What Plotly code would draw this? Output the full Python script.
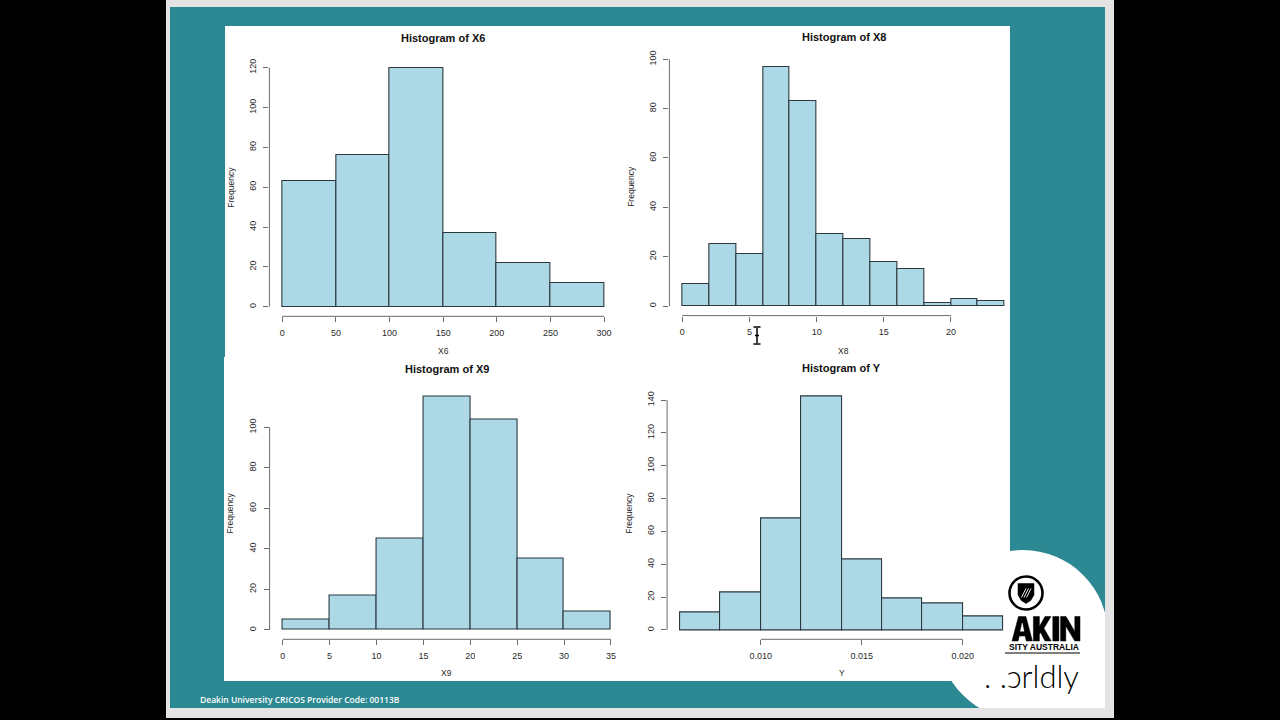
import plotly.graph_objects as go

W, H = 1280, 720

# ---------------- data ----------------
x6_edges = [0, 50, 100, 150, 200, 250, 300]
x6_counts = [63, 76, 120, 37, 22, 12]
x8_edges = [0, 2, 4, 6, 8, 10, 12, 14, 16, 18, 20, 22, 24]
x8_counts = [9, 25, 21, 97, 83, 29, 27, 18, 15, 1, 3, 2]
x9_edges = [0, 5, 10, 15, 20, 25, 30, 35]
x9_counts = [5, 17, 45, 115, 104, 35, 9]
y_edges = [0.006, 0.008, 0.010, 0.012, 0.014, 0.016, 0.018, 0.020, 0.022]
y_counts = [11, 23, 68, 142, 43, 19, 16, 8]

x6_xticks = [0, 50, 100, 150, 200, 250, 300]
x8_xticks = [0, 5, 10, 15, 20]
x9_xticks = [0, 5, 10, 15, 20, 25, 30, 35]
y_xticks = [0.010, 0.015, 0.020]
x6_xticklabels = ["0", "50", "100", "150", "200", "250", "300"]
x8_xticklabels = ["0", "5", "10", "15", "20"]
x9_xticklabels = ["0", "5", "10", "15", "20", "25", "30", "35"]
y_xticklabels = ["0.010", "0.015", "0.020"]
x6_yticks = [0, 20, 40, 60, 80, 100, 120]
x8_yticks = [0, 20, 40, 60, 80, 100]
x9_yticks = [0, 20, 40, 60, 80, 100]
y_yticks = [0, 20, 40, 60, 80, 100, 120, 140]

titles = ["Histogram of X6", "Histogram of X8", "Histogram of X9", "Histogram of Y"]
xlabels = ["X6", "X8", "X9", "Y"]
ylabel = "Frequency"
footer = "Deakin University CRICOS Provider Code: 00113B"

# ---------------- layout helpers ----------------
def px(x):
    return x / W


def py(y):
    return 1 - y / H


TEAL = "#2C8993"
FRAME = "#E4E4E4"
BAR = "#ADD8E6"
EDGE = "#2B383E"
AXIS = "#6A6A6A"
TXT = "#2A2A2A"
FONT = "Liberation Sans, Arial, Helvetica, sans-serif"

# plot-region boxes in pixels: left, right, top, bottom
boxes = [
    (269.4, 616.9, 58.1, 316.3),
    (669.4, 1017.6, 57.1, 315.6),
    (269.6, 624.1, 387.6, 639.3),
    (667.1, 1016.1, 387.4, 639.3),
]
title_y = [38, 37, 369, 368]
ylab_x = [231.5, 631.5, 230.0, 629.3]
xlab_y = [351, 351, 673.3, 673.3]

panels = [
    (x6_edges, x6_counts, x6_xticks, x6_xticklabels, x6_yticks),
    (x8_edges, x8_counts, x8_xticks, x8_xticklabels, x8_yticks),
    (x9_edges, x9_counts, x9_xticks, x9_xticklabels, x9_yticks),
    (y_edges, y_counts, y_xticks, y_xticklabels, y_yticks),
]

fig = go.Figure()
shapes = []
annotations = []


def rect(x0, y0, x1, y1, color, layer="below"):
    return dict(type="rect", xref="paper", yref="paper",
                x0=px(x0), x1=px(x1), y0=py(y1), y1=py(y0),
                fillcolor=color, line=dict(width=0), layer=layer)


def pline(x0, y0, x1, y1, color, width=1, layer="above"):
    return dict(type="line", xref="paper", yref="paper",
                x0=px(x0), x1=px(x1), y0=py(y0), y1=py(y1),
                line=dict(color=color, width=width), layer=layer)


def ppath(points, fill):
    d = "M " + " L ".join(f"{px(a):.5f},{py(b):.5f}" for a, b in points) + " Z"
    return dict(type="path", xref="paper", yref="paper", path=d,
                fillcolor=fill, line=dict(color=fill, width=0.5),
                layer="above")


# background: frame, teal slide, logo blob, chart panels
shapes.append(rect(166, 0, 1114, 718, FRAME))
shapes.append(rect(170, 7, 1105, 708, TEAL))
shapes.append(dict(type="circle", xref="paper", yref="paper",
                   x0=px(1023 - 85), x1=px(1023 + 85), y0=py(635 + 85), y1=py(635 - 85),
                   fillcolor="white", line=dict(width=0), layer="below"))
shapes.append(rect(1023, 612, 1105, 708, "white"))
shapes.append(rect(166, 708, 1114, 718, FRAME))
shapes.append(rect(0, 718, 1280, 720, "black"))
shapes.append(rect(1105, 0, 1114, 718, FRAME))
shapes.append(rect(225, 26, 1010, 357, "white"))
shapes.append(rect(224, 357, 1010, 681, "white"))

layout_axes = {}
for i, (edges, counts, xt, xtl, yt) in enumerate(panels):
    n = i + 1
    xa = "x" if n == 1 else f"x{n}"
    ya = "y" if n == 1 else f"y{n}"
    L, R, T, B = boxes[i]
    span = edges[-1] - edges[0]
    xr = [edges[0] - 0.04 * span, edges[-1] + 0.04 * span]
    ymax = max(counts)
    yr = [-0.04 * ymax, 1.04 * ymax]

    fig.add_trace(go.Bar(
        x=edges[:-1], y=counts,
        width=[b - a for a, b in zip(edges[:-1], edges[1:])],
        offset=0,
        marker=dict(color=BAR, line=dict(color=EDGE, width=1.1)),
        xaxis=xa, yaxis=ya, showlegend=False, hoverinfo="skip",
    ))

    layout_axes["xaxis" if n == 1 else f"xaxis{n}"] = dict(
        domain=[px(L), px(R)], range=xr, anchor=ya, automargin=False,
        showline=False, showgrid=False, zeroline=False,
        ticks="outside", ticklen=5, tickwidth=1, tickcolor=AXIS,
        tickvals=xt, ticktext=xtl, ticklabelstandoff=3,
        tickfont=dict(family=FONT, size=9, color=TXT), fixedrange=True,
    )
    layout_axes["yaxis" if n == 1 else f"yaxis{n}"] = dict(
        domain=[py(B), py(T)], range=yr, anchor=xa, automargin=False,
        showline=False, showgrid=False, zeroline=False,
        ticks="outside", ticklen=5, tickwidth=1, tickcolor=AXIS,
        tickvals=yt, ticktext=[str(v) for v in yt], tickangle=-90,
        ticklabelstandoff=4,
        tickfont=dict(family=FONT, size=9, color=TXT), fixedrange=True,
    )

    # R-style axis lines spanning only the tick range
    shapes.append(dict(type="line", xref=xa, yref=f"{ya} domain",
                       x0=xt[0], x1=xt[-1], y0=0, y1=0,
                       line=dict(color=AXIS, width=1)))
    shapes.append(dict(type="line", xref=f"{xa} domain", yref=ya,
                       x0=0, x1=0, y0=yt[0], y1=yt[-1],
                       line=dict(color=AXIS, width=1)))

    cx = (L + R) / 2
    cy = (T + B) / 2
    annotations.append(dict(text=f"<b>{titles[i]}</b>", x=px(cx), y=py(title_y[i]),
                            xref="paper", yref="paper", showarrow=False,
                            xanchor="center", yanchor="middle",
                            font=dict(family=FONT, size=11, color="#111")))
    annotations.append(dict(text=xlabels[i], x=px(cx), y=py(xlab_y[i]),
                            xref="paper", yref="paper", showarrow=False,
                            xanchor="center", yanchor="middle",
                            font=dict(family=FONT, size=8.5, color=TXT)))
    annotations.append(dict(text=ylabel, x=px(ylab_x[i]), y=py(cy),
                            xref="paper", yref="paper", showarrow=False,
                            textangle=-90, xanchor="center", yanchor="middle",
                            font=dict(family=FONT, size=8.5, color=TXT)))

# mouse cursor (I-beam) in the X8 panel
shapes.append(pline(757, 328, 757, 343, "black", 1.5))
shapes.append(pline(753.5, 327, 760.5, 327, "black", 1.5))
shapes.append(pline(753.5, 344, 760.5, 344, "black", 1.5))
shapes.append(pline(755, 335.5, 759, 335.5, "black", 1.5))

# Deakin logo: ringed shield
shapes.append(dict(type="circle", xref="paper", yref="paper",
                   x0=px(1026 - 16.5), x1=px(1026 + 16.5), y0=py(593 + 16.5), y1=py(593 - 16.5),
                   fillcolor="white", line=dict(color="black", width=2.6), layer="above"))
shapes.append(ppath([(1018, 583.5), (1034, 583.5), (1034, 595), (1030.8, 600.5),
                     (1026, 603.5), (1021.2, 600.5), (1018, 595)], "black"))
for k in range(3):
    shapes.append(pline(1021.5 + 2.5 * k, 597.5, 1026 + 2.5 * k, 588.5, "white", 0.9))

# partially hidden "DEAKIN": visible letters A K I N drawn as solid strokes
T0, B0 = 616.5, 641
shapes.append(ppath([(1012, B0), (1018.5, T0), (1025.9, T0), (1032.4, B0), (1026.3, B0),
                     (1025.1, 636), (1019.3, 636), (1018.1, B0)], "black"))
shapes.append(ppath([(1020.4, 631.2), (1024.0, 631.2), (1022.2, 623.0)], "white"))
shapes.append(ppath([(1033.4, T0), (1039.4, T0), (1039.4, 626.5), (1045.0, T0), (1051.0, T0),
                     (1043.9, 628.3), (1051.2, B0), (1045.0, B0), (1040.6, 632.5),
                     (1039.4, 634.3), (1039.4, B0), (1033.4, B0)], "black"))
shapes.append(ppath([(1052.8, T0), (1058.9, T0), (1058.9, B0), (1052.8, B0)], "black"))
shapes.append(ppath([(1060.6, T0), (1066.0, T0), (1074.8, 631.5), (1074.8, T0), (1080.0, T0),
                     (1080.0, B0), (1074.8, B0), (1065.8, 626.0), (1065.8, B0), (1060.6, B0)], "black"))
shapes.append(pline(1005, 653, 1080, 653, "black", 1.2))

annotations.append(dict(text="<b>SITY AUSTRALIA</b>", x=px(1080.5), y=py(647.2), xref="paper", yref="paper",
                        showarrow=False, xanchor="right", yanchor="middle",
                        font=dict(family="Liberation Sans, Arial, sans-serif",
                                  size=8.5, color="black")))
annotations.append(dict(text=". .ɔrldly", x=px(1081), y=py(676), xref="paper", yref="paper",
                        showarrow=False, xanchor="right", yanchor="middle",
                        font=dict(family="Lato, Open Sans, Noto Sans, sans-serif",
                                  size=31, color="black", weight=300)))

annotations.append(dict(text=footer, x=px(198), y=py(699), xref="paper", yref="paper",
                        showarrow=False, xanchor="left", yanchor="middle",
                        font=dict(family="Open Sans, Noto Sans, sans-serif", size=8.5,
                                  color="white", weight=600)))

fig.update_layout(
    width=W, height=H, autosize=False,
    margin=dict(l=0, r=0, t=0, b=0, pad=0, autoexpand=False),
    paper_bgcolor="black", plot_bgcolor="rgba(0,0,0,0)",
    bargap=0, showlegend=False,
    shapes=shapes, annotations=annotations,
    **layout_axes,
)

fig.write_html(
    "out.html", config=dict(displayModeBar=False, responsive=False),
    post_script=(
        "document.documentElement.style.margin='0';document.body.style.margin='0';"
        "document.body.style.padding='0';document.body.style.overflow='hidden';"
        "var g=document.getElementById('{plot_id}');g.style.position='absolute';"
        "g.style.left='0px';g.style.top='0px';"
    ),
)
